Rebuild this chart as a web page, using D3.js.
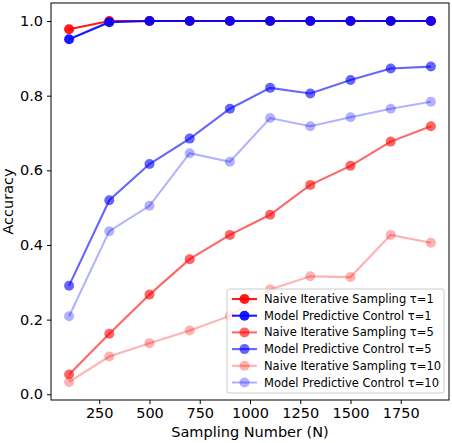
<!DOCTYPE html>
<html>
<head>
<meta charset="utf-8">
<script src="https://cdn.jsdelivr.net/npm/d3@7"></script>
<style>
  body { margin: 0; background: #fff; }
  svg { font-family: "DejaVu Sans", sans-serif; }
  .axis text { font-size: 14.5px; fill: #000; font-family: "DejaVu Sans", sans-serif; }
  .axis path, .axis line { stroke: #000; }
</style>
</head>
<body>
<svg id="chart"></svg>
<script>
// sampling numbers on the x axis
const samplingN = [100, 300, 500, 700, 900, 1100, 1300, 1500, 1700, 1900];

const nisTau1 = [0.978, 1.0, 1.0, 1.0, 1.0, 1.0, 1.0, 1.0, 1.0, 1.0];
const mpcTau1 = [0.951, 0.997, 1.0, 1.0, 1.0, 1.0, 1.0, 1.0, 1.0, 1.0];
const nisTau5 = [0.053, 0.162, 0.267, 0.362, 0.427, 0.481, 0.561, 0.612, 0.677, 0.718];
const mpcTau5 = [0.291, 0.520, 0.617, 0.685, 0.765, 0.821, 0.806, 0.842, 0.873, 0.878];
const nisTau10 = [0.033, 0.101, 0.137, 0.171, 0.210, 0.281, 0.316, 0.314, 0.427, 0.406];
const mpcTau10 = [0.209, 0.437, 0.505, 0.646, 0.623, 0.740, 0.718, 0.742, 0.765, 0.784];

const seriesNames = [
    "Naive Iterative Sampling \u03c4=1",
    "Model Predictive Control \u03c4=1",
    "Naive Iterative Sampling \u03c4=5",
    "Model Predictive Control \u03c4=5",
    "Naive Iterative Sampling \u03c4=10",
    "Model Predictive Control \u03c4=10"
];
const seriesValues = [nisTau1, mpcTau1, nisTau5, mpcTau5, nisTau10, mpcTau10];

const xTicks = [250, 500, 750, 1000, 1250, 1500, 1750];
const yTicks = [0.0, 0.2, 0.4, 0.6, 0.8, 1.0];

class AccuracyChart {
    constructor(_config) {
        this.config = {
            parentElement: _config.parentElement,
            containerWidth: _config.containerWidth || 452,
            containerHeight: _config.containerHeight || 443,
            margin: { top: 3, bottom: 43, right: 3, left: 51 }
        }
        this.initVis();
    }

    initVis() {
        let vis = this;
        vis.width = vis.config.containerWidth - vis.config.margin.left - vis.config.margin.right;
        vis.height = vis.config.containerHeight - vis.config.margin.top - vis.config.margin.bottom;

        vis.svg = d3.select(vis.config.parentElement)
            .attr("width", vis.config.containerWidth)
            .attr("height", vis.config.containerHeight);

        vis.chart = vis.svg.append("g")
            .attr("transform", `translate(${vis.config.margin.left},${vis.config.margin.top})`);

        // matplotlib style 5% margins
        let xPad = (d3.max(samplingN) - d3.min(samplingN)) * 0.05;
        vis.xScale = d3.scaleLinear()
            .domain([d3.min(samplingN) - xPad, d3.max(samplingN) + xPad])
            .range([0, vis.width]);

        let allVals = seriesValues.flat();
        let yPad = (d3.max(allVals) - d3.min(allVals)) * 0.05;
        vis.yScale = d3.scaleLinear()
            .domain([d3.min(allVals) - yPad, d3.max(allVals) + yPad])
            .range([vis.height, 0]);

        vis.xAxis = d3.axisBottom(vis.xScale).tickValues(xTicks).tickSize(4).tickPadding(4)
            .tickFormat(d3.format("d"));
        vis.yAxis = d3.axisLeft(vis.yScale).tickValues(yTicks).tickSize(4).tickPadding(4)
            .tickFormat(d3.format(".1f"));

        vis.colors = ["red", "blue", "red", "blue", "red", "blue"];
        vis.alphas = [0.9, 0.9, 0.6, 0.6, 0.3, 0.3];

        vis.renderVis();
    }

    renderVis() {
        let vis = this;

        let line = d3.line()
            .x(d => vis.xScale(d.n))
            .y(d => vis.yScale(d.v));

        // draw the light series first so the strong ones sit on top
        let order = [4, 5, 2, 3, 0, 1];
        order.forEach(i => {
            let pts = samplingN.map((n, j) => ({ n: n, v: seriesValues[i][j] }));
            vis.chart.append("path")
                .datum(pts)
                .attr("fill", "none")
                .attr("stroke", vis.colors[i])
                .attr("stroke-opacity", vis.alphas[i])
                .attr("stroke-width", 2.1)
                .attr("d", line);
            vis.chart.selectAll(null)
                .data(pts)
                .join("circle")
                .attr("cx", d => vis.xScale(d.n))
                .attr("cy", d => vis.yScale(d.v))
                .attr("r", 5)
                .attr("fill", vis.colors[i])
                .attr("fill-opacity", vis.alphas[i]);
        });

        vis.chart.append("g")
            .attr("class", "axis x-axis")
            .attr("transform", `translate(0,${vis.height})`)
            .call(vis.xAxis)
            .call(g => g.select(".domain").remove());

        vis.chart.append("g")
            .attr("class", "axis y-axis")
            .call(vis.yAxis)
            .call(g => g.select(".domain").remove());

        // frame
        vis.chart.append("rect")
            .attr("width", vis.width)
            .attr("height", vis.height)
            .attr("fill", "none")
            .attr("stroke", "#000")
            .attr("stroke-width", 1);

        vis.svg.append("text")
            .attr("x", vis.config.margin.left + vis.width / 2)
            .attr("y", vis.config.containerHeight - 6)
            .attr("text-anchor", "middle")
            .style("font-size", "14.5px")
            .text("Sampling Number (N)");

        vis.svg.append("text")
            .attr("transform", "rotate(-90)")
            .attr("x", -(vis.config.margin.top + vis.height / 2))
            .attr("y", 13)
            .attr("text-anchor", "middle")
            .style("font-size", "14.5px")
            .text("Accuracy");

        // legend
        let lx = 227, ly = 289, rowH = 16.7;
        let legend = vis.svg.append("g").attr("transform", `translate(${lx},${ly})`);
        legend.append("rect")
            .attr("width", 217)
            .attr("height", 104)
            .attr("rx", 2)
            .attr("fill", "#fff")
            .attr("fill-opacity", 0.8)
            .attr("stroke", "#ccc");

        let rows = legend.selectAll("g.row")
            .data(seriesNames)
            .join("g")
            .attr("class", "row")
            .attr("transform", (d, i) => `translate(0,${10 + i * rowH})`);

        rows.append("line")
            .attr("x1", 5).attr("x2", 30)
            .attr("stroke", (d, i) => vis.colors[i])
            .attr("stroke-opacity", (d, i) => vis.alphas[i])
            .attr("stroke-width", 2.1);
        rows.append("circle")
            .attr("cx", 17.5)
            .attr("r", 5)
            .attr("fill", (d, i) => vis.colors[i])
            .attr("fill-opacity", (d, i) => vis.alphas[i]);
        rows.append("text")
            .attr("x", 37)
            .attr("dy", "0.35em")
            .style("font-size", "11.5px")
            .text(d => d);
    }
}

new AccuracyChart({ parentElement: "#chart" });
</script>
</body>
</html>
